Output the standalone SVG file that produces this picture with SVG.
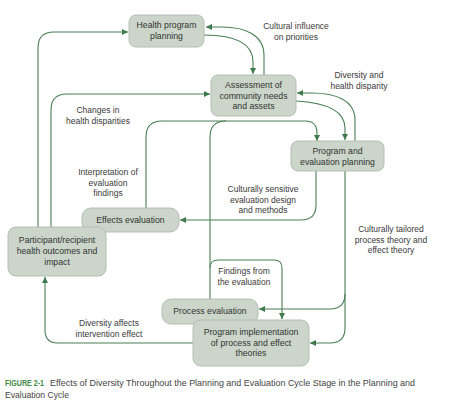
<svg xmlns="http://www.w3.org/2000/svg" width="474" height="418" viewBox="0 0 474 418">
<defs>
<marker id="ah" viewBox="0 0 10 10" refX="10" refY="5" markerWidth="6" markerHeight="6" orient="auto" markerUnits="userSpaceOnUse">
<path d="M0,0 L10,5 L0,10 z" fill="#3f7a4c"/>
</marker>
</defs>
<style>
.box{fill:#cbd5ca;stroke:#b3beb2;stroke-width:1}
.nt{font-family:"Liberation Sans",Arial,sans-serif;font-size:8.7px;fill:#333;text-anchor:middle}
.lb{font-family:"Liberation Sans",Arial,sans-serif;font-size:8.5px;fill:#3a3a3a;text-anchor:middle}
.cn{fill:none;stroke:#4a7f56;stroke-width:1.1}
.arr{marker-end:url(#ah)}
.cap{font-family:"Liberation Sans",Arial,sans-serif;font-size:8.6px;fill:#444}
.capb{font-family:"Liberation Sans",Arial,sans-serif;font-size:8.6px;font-weight:bold;fill:#3f8a45}
</style>
<rect width="474" height="418" fill="#fff"/>
<g id="connectors">
<path class="cn arr" d="M38,227 V48 Q38,32 54,32 H128"/>
<path class="cn arr" d="M51,227 V110 Q51,94 67,94 H210"/>
<path class="cn arr" d="M204,35 C238,35 253,45 253,62 V74"/>
<path class="cn arr" d="M264,75 V55 C264,35 245,27 222,27 H206"/>
<path class="cn arr" d="M296,101 C330,103 345,112 345,128 V140"/>
<path class="cn arr" d="M355,141 V120 C355,100 335,93 312,93 H297"/>
<path class="cn arr" d="M316,171 V205 Q316,220 301,220 H180"/>
<path class="cn arr" d="M146,208 V137 Q146,121 162,121 H305 Q317,121 317,133 V141"/>
<path class="cn" d="M210,299 V137 Q210,121 226,121"/>
<path class="cn arr" d="M210,268 Q210,260 218,260 H274 Q282,260 282,268 V319"/>
<path class="cn arr" d="M345,171 V294 Q345,309 330,309 H259"/>
<path class="cn arr" d="M345,294 V328 Q345,343 330,343 H310"/>
<path class="cn arr" d="M193,343 H58 Q45,343 45,330 V277"/>
</g>
<g id="labels">
<text class="lb" x="296" y="29">Cultural influence</text>
<text class="lb" x="296" y="40">on priorities</text>
<text class="lb" x="359" y="78">Diversity and</text>
<text class="lb" x="359" y="89">health disparity</text>
<text class="lb" x="98" y="113">Changes in</text>
<text class="lb" x="98" y="123.5">health disparities</text>
<text class="lb" x="108" y="175">Interpretation of</text>
<text class="lb" x="108" y="185.5">evaluation</text>
<text class="lb" x="108" y="196">findings</text>
<text class="lb" x="263" y="192">Culturally sensitive</text>
<text class="lb" x="263" y="202.5">evaluation design</text>
<text class="lb" x="263" y="213">and methods</text>
<text class="lb" x="391" y="232">Culturally tailored</text>
<text class="lb" x="391" y="242.5">process theory and</text>
<text class="lb" x="391" y="253">effect theory</text>
<text class="lb" x="244" y="274">Findings from</text>
<text class="lb" x="244" y="284.5">the evaluation</text>
<text class="lb" x="109" y="326">Diversity affects</text>
<text class="lb" x="109" y="336.5">intervention effect</text>
</g>
<g id="n-health-program-planning">
<rect class="box" x="129" y="15" width="75" height="32" rx="7"/>
<text class="nt" x="166.5" y="28">Health program</text>
<text class="nt" x="166.5" y="39">planning</text>
</g>
<g id="n-assessment">
<rect class="box" x="211" y="75" width="85" height="41" rx="7"/>
<text class="nt" x="253.5" y="88">Assessment of</text>
<text class="nt" x="253.5" y="98.5">community needs</text>
<text class="nt" x="253.5" y="109">and assets</text>
</g>
<g id="n-program-evaluation-planning">
<rect class="box" x="291" y="141" width="93" height="30" rx="7"/>
<text class="nt" x="337.5" y="154">Program and</text>
<text class="nt" x="337.5" y="164.5">evaluation planning</text>
</g>
<g id="n-effects-evaluation">
<rect class="box" x="82" y="208" width="97" height="24" rx="9"/>
<text class="nt" x="130.5" y="223">Effects evaluation</text>
</g>
<g id="n-participant">
<rect class="box" x="8" y="227" width="98" height="49" rx="8"/>
<text class="nt" x="57" y="243">Participant/recipient</text>
<text class="nt" x="57" y="254">health outcomes and</text>
<text class="nt" x="57" y="265">impact</text>
</g>
<g id="n-process-evaluation">
<rect class="box" x="162" y="299" width="96" height="25" rx="9"/>
<text class="nt" x="210" y="314">Process evaluation</text>
</g>
<g id="n-program-implementation">
<rect class="box" x="193" y="320" width="116" height="46" rx="8"/>
<text class="nt" x="251" y="335">Program implementation</text>
<text class="nt" x="251" y="345.5">of process and effect</text>
<text class="nt" x="251" y="356">theories</text>
</g>
<g id="caption">
<text class="capb" x="5" y="386" textLength="39" lengthAdjust="spacingAndGlyphs">FIGURE 2-1</text>
<text class="cap" x="50" y="386" textLength="365" lengthAdjust="spacingAndGlyphs">Effects  of Diversity Throughout the Planning and Evaluation Cycle Stage in the Planning and</text>
<text class="cap" x="5" y="398" textLength="64" lengthAdjust="spacingAndGlyphs">Evaluation Cycle</text>
</g>
</svg>
